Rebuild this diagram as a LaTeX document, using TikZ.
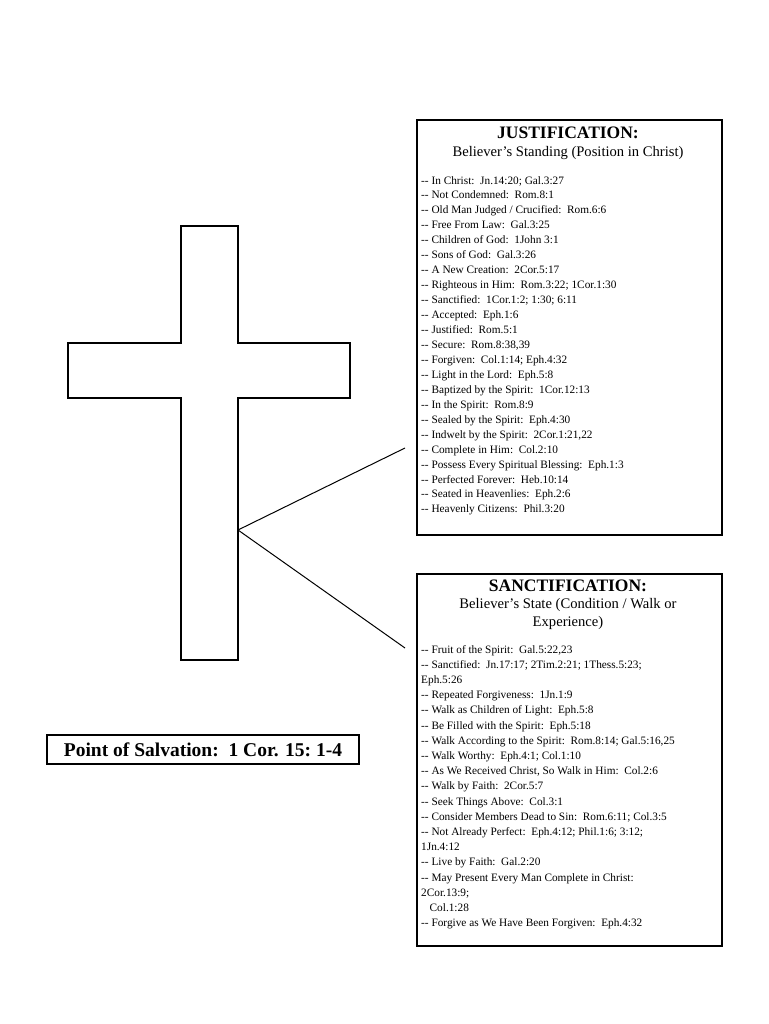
\documentclass[tikz,border=0pt]{standalone}
\usepackage{fontspec}
\setmainfont{Liberation Serif}
\newcommand{\dd}{{-}{-}}
\begin{document}
\begin{tikzpicture}[x=1pt,y=-1pt,
  boxst/.style={draw,line width=2pt},
  listst/.style={anchor=north west,align=left,inner sep=0pt,font=\fontsize{11.3}{14.95}\selectfont},
  titlest/.style={font=\fontsize{17.5}{18}\selectfont\bfseries,inner sep=0pt},
  subst/.style={font=\fontsize{14.6}{18}\selectfont,inner sep=0pt,align=center}]
\useasboundingbox (0,0) rectangle (768,1024);
\draw[line width=1.6pt] (181,226) -- (238,226) -- (238,343) -- (350,343) -- (350,398) -- (238,398) -- (238,660) -- (181,660) -- (181,398) -- (68,398) -- (68,343) -- (181,343) -- cycle;
\coordinate (c) at (238,530);
\node[boxst,minimum width=305,minimum height=415,anchor=north west] (j) at (416,119) {};
\node[boxst,minimum width=305,minimum height=372,anchor=north west] (s) at (416,573) {};
\coordinate (jl) at (405,448);
\coordinate (sl) at (405,648);
\draw[line width=1pt] (c) -- (jl);
\draw[line width=1pt] (c) -- (sl);
\node[titlest] (jt) at (568,133) {JUSTIFICATION:};
\node[subst] (js) at (568,153) {Believer's Standing (Position in Christ)};
\node[listst] (jlist) at (421,176) {\dd\ In Christ:\ \ Jn.14:20; Gal.3:27\\
\dd\ Not Condemned:\ \ Rom.8:1\\
\dd\ Old Man Judged / Crucified:\ \ Rom.6:6\\
\dd\ Free From Law:\ \ Gal.3:25\\
\dd\ Children of God:\ \ 1John 3:1\\
\dd\ Sons of God:\ \ Gal.3:26\\
\dd\ A New Creation:\ \ 2Cor.5:17\\
\dd\ Righteous in Him:\ \ Rom.3:22; 1Cor.1:30\\
\dd\ Sanctified:\ \ 1Cor.1:2; 1:30; 6:11\\
\dd\ Accepted:\ \ Eph.1:6\\
\dd\ Justified:\ \ Rom.5:1\\
\dd\ Secure:\ \ Rom.8:38,39\\
\dd\ Forgiven:\ \ Col.1:14; Eph.4:32\\
\dd\ Light in the Lord:\ \ Eph.5:8\\
\dd\ Baptized by the Spirit:\ \ 1Cor.12:13\\
\dd\ In the Spirit:\ \ Rom.8:9\\
\dd\ Sealed by the Spirit:\ \ Eph.4:30\\
\dd\ Indwelt by the Spirit:\ \ 2Cor.1:21,22\\
\dd\ Complete in Him:\ \ Col.2:10\\
\dd\ Possess Every Spiritual Blessing:\ \ Eph.1:3\\
\dd\ Perfected Forever:\ \ Heb.10:14\\
\dd\ Seated in Heavenlies:\ \ Eph.2:6\\
\dd\ Heavenly Citizens:\ \ Phil.3:20};
\node[titlest] (st) at (568,586) {SANCTIFICATION:};
\node[subst,anchor=north] (ss) at (568,598) {Believer's State (Condition / Walk or\\Experience)};
\node[listst,font=\fontsize{11.3}{15.2}\selectfont] (slist) at (421,645) {\dd\ Fruit of the Spirit:\ \ Gal.5:22,23\\
\dd\ Sanctified:\ \ Jn.17:17; 2Tim.2:21; 1Thess.5:23;\\
Eph.5:26\\
\dd\ Repeated Forgiveness:\ \ 1Jn.1:9\\
\dd\ Walk as Children of Light:\ \ Eph.5:8\\
\dd\ Be Filled with the Spirit:\ \ Eph.5:18\\
\dd\ Walk According to the Spirit:\ \ Rom.8:14; Gal.5:16,25\\
\dd\ Walk Worthy:\ \ Eph.4:1; Col.1:10\\
\dd\ As We Received Christ, So Walk in Him:\ \ Col.2:6\\
\dd\ Walk by Faith:\ \ 2Cor.5:7\\
\dd\ Seek Things Above:\ \ Col.3:1\\
\dd\ Consider Members Dead to Sin:\ \ Rom.6:11; Col.3:5\\
\dd\ Not Already Perfect:\ \ Eph.4:12; Phil.1:6; 3:12;\\
1Jn.4:12\\
\dd\ Live by Faith:\ \ Gal.2:20\\
\dd\ May Present Every Man Complete in Christ:\\
2Cor.13:9;\\
\ \ \ Col.1:28\\
\dd\ Forgive as We Have Been Forgiven:\ \ Eph.4:32};
\node[boxst,minimum width=312,minimum height=29,anchor=north west,inner sep=0pt,font=\fontsize{19.5}{20}\selectfont\bfseries] (p) at (46,734) {Point of Salvation:\ \ 1 Cor. 15:\ 1-4};
\end{tikzpicture}
\end{document}
